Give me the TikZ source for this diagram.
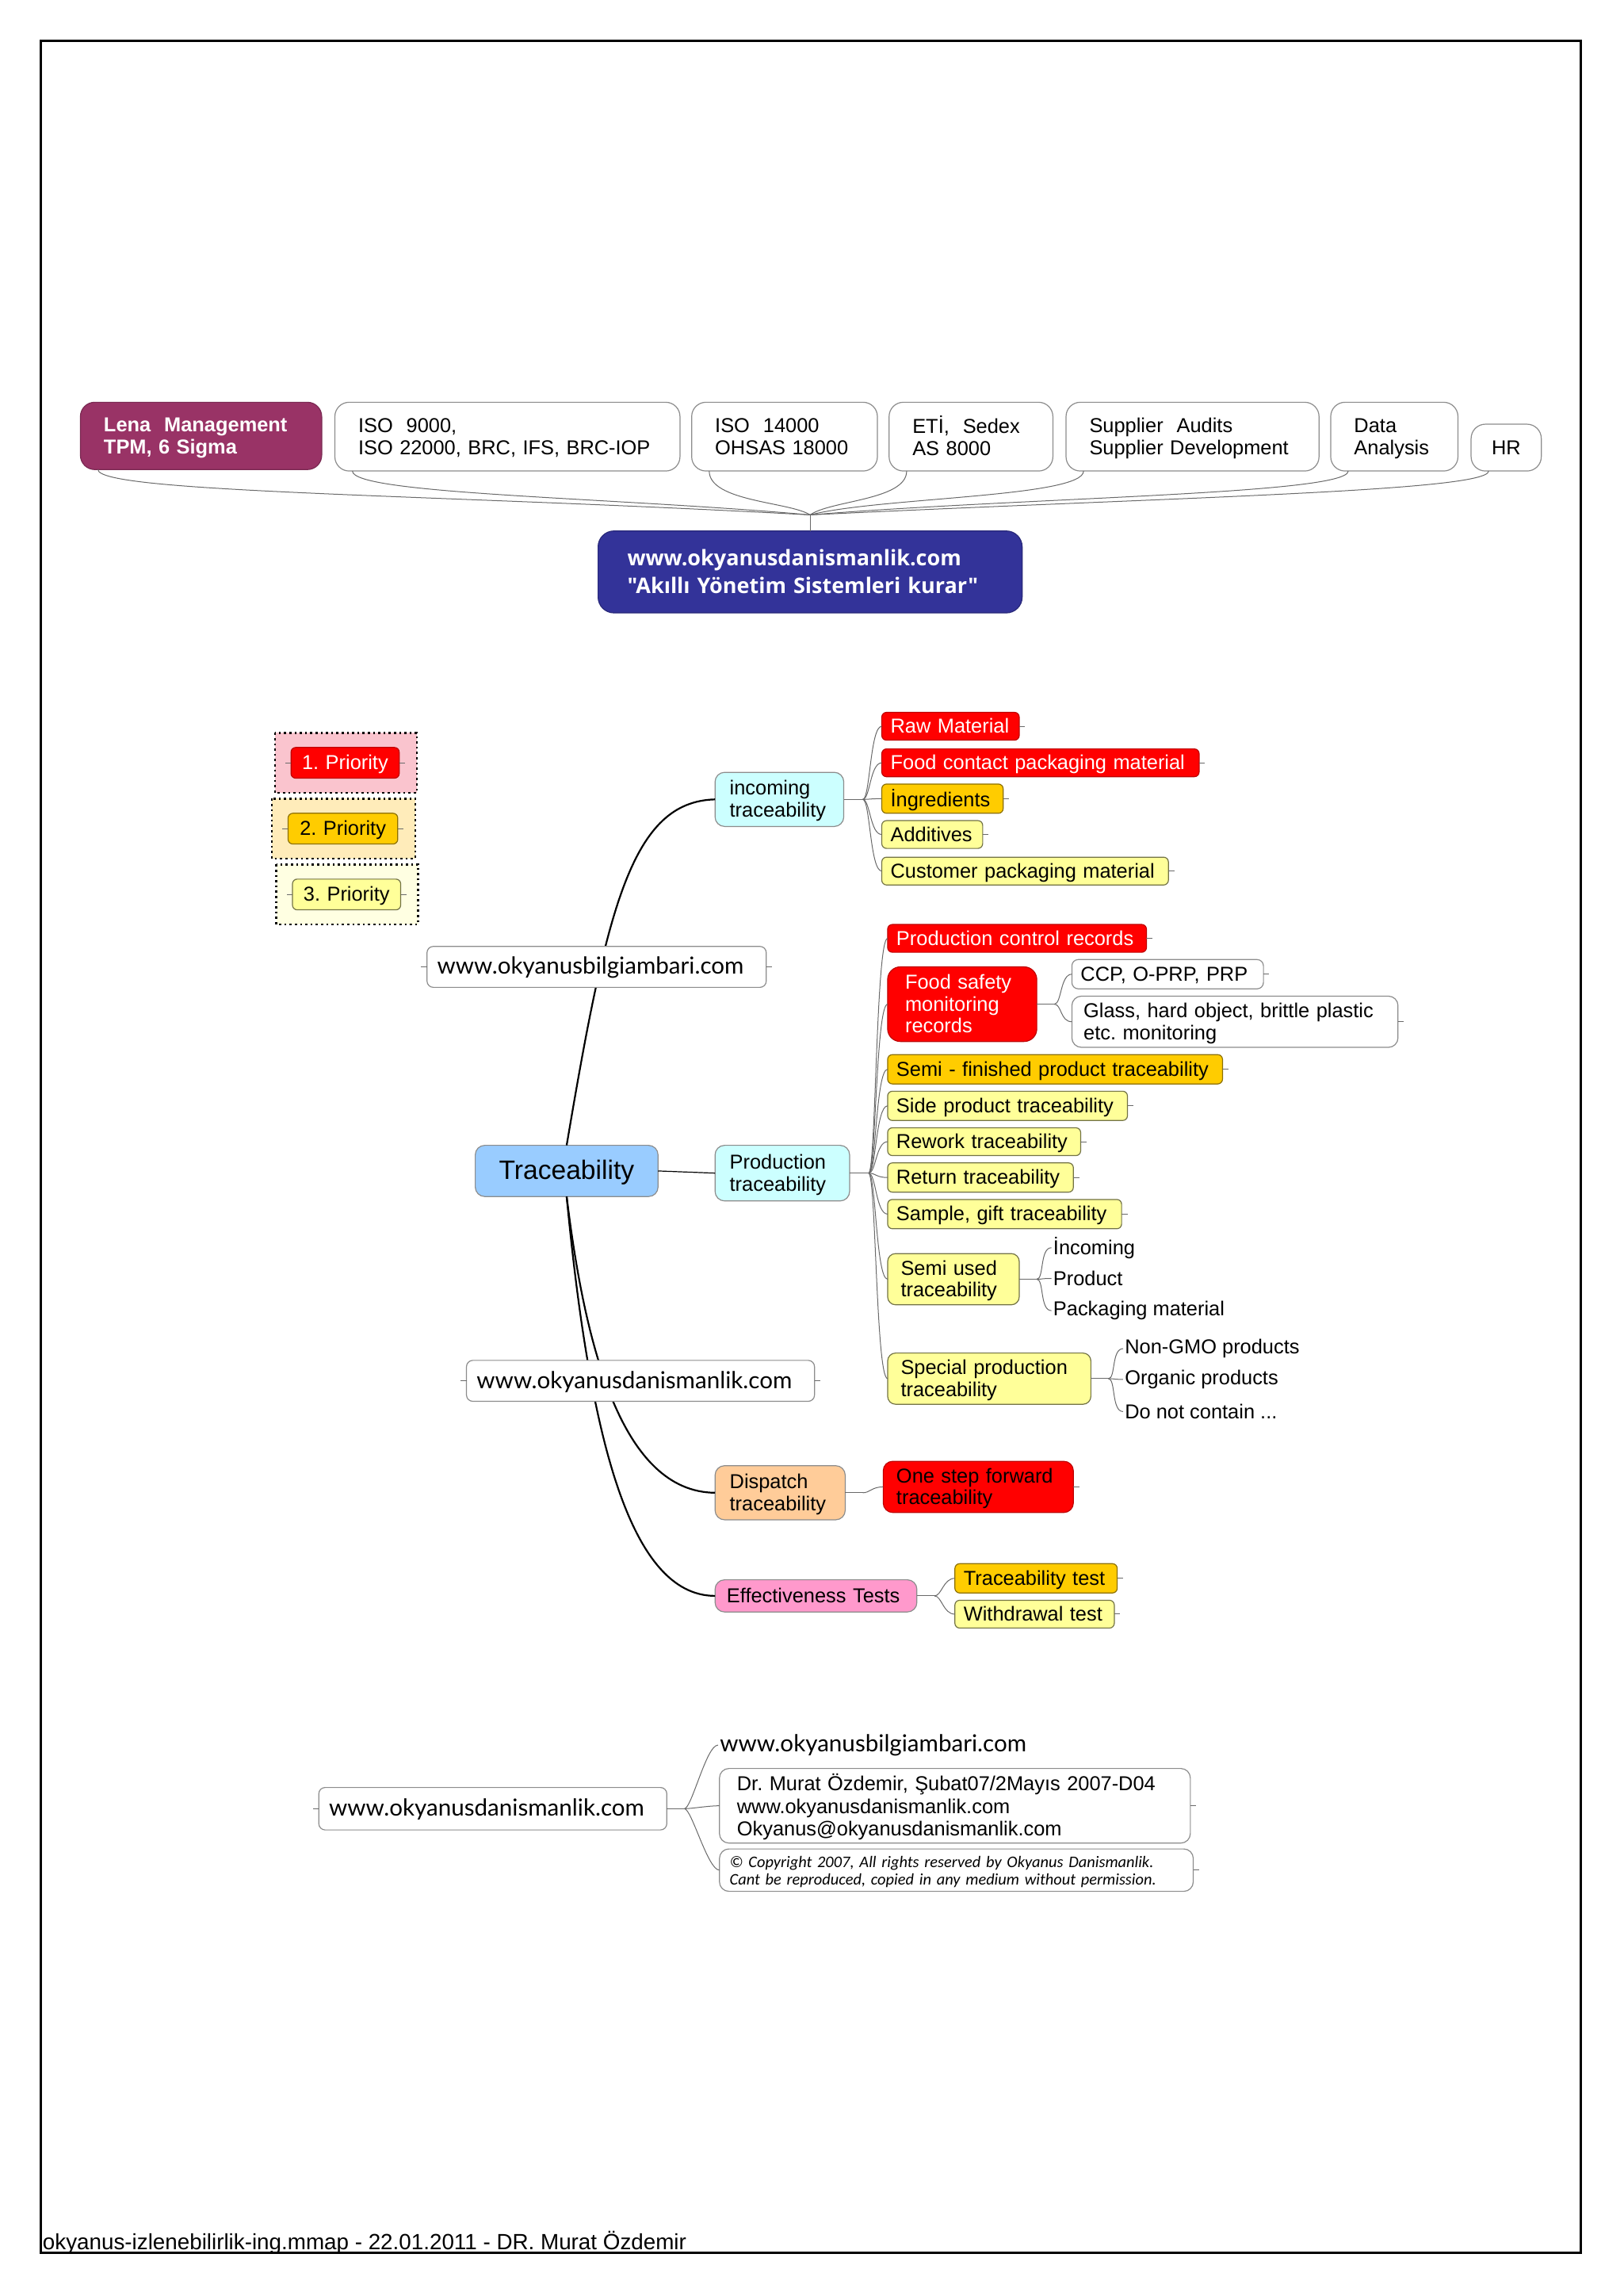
\documentclass[tikz,border=0pt]{standalone}
\usepackage{fontspec}
\setmainfont{Liberation Sans}
\newfontfamily\webfont{Open Sans}
\newfontfamily\handfont{Lato}
\newfontfamily\copyfont{Carlito}
\usetikzlibrary{calc}
\frenchspacing
\definecolor{cMaroon}{RGB}{153,51,102}
\definecolor{cNavy}{RGB}{51,51,153}
\definecolor{cRed}{RGB}{255,0,0}
\definecolor{cGold}{RGB}{255,204,0}
\definecolor{cYel}{RGB}{255,255,153}
\definecolor{cCyan}{RGB}{204,255,255}
\definecolor{cPeach}{RGB}{255,204,153}
\definecolor{cPink}{RGB}{255,153,204}
\definecolor{cBlue}{RGB}{153,204,255}
\definecolor{cBorder}{RGB}{140,140,140}
\definecolor{cLine}{RGB}{105,105,105}
\definecolor{cLegA}{RGB}{250,196,206}
\definecolor{cLegB}{RGB}{255,236,186}
\definecolor{cLegC}{RGB}{255,255,226}
\tikzset{
  frame/.style={draw=black, line width=1.6pt},
  box/.style={draw=cBorder, line width=0.6pt, outer sep=0pt, inner ysep=0pt, align=left, font=\fontsize{12.7}{13.9}\selectfont},
  topbox/.style={box, rounded corners=9pt, fill=white},
  leaf/.style={box, rounded corners=3pt},
  rleaf/.style={leaf, fill=cRed, draw=cRed!75!black, text=white},
  gleaf/.style={leaf, fill=cGold, draw=cGold!55!black},
  yleaf/.style={leaf, fill=cYel, draw=cYel!45!black},
  wleaf/.style={leaf, fill=white, rounded corners=6pt},
  lvl/.style={box, rounded corners=6pt},
  webbox/.style={box, fill=white, rounded corners=4pt, font={\handfont\fontsize{14.8}{16}\selectfont}},
  plaintext/.style={inner xsep=1pt, inner ysep=1pt, anchor=west, font=\fontsize{12.7}{13.9}\selectfont},
  legbox/.style={draw=black, line width=1.3pt, dotted},
  twigline/.style={draw=cLine, line width=0.5pt},
  trunk/.style={draw=black, line width=1.1pt},
}
\newcommand{\bxnode}[8]{%
  \pgfmathsetmacro\bxw{(#5-#3)*0.9225}%
  \pgfmathsetmacro\bxh{(#6-#4)*0.9225}%
  \pgfmathsetmacro\bxp{#7*0.9225}%
  \pgfmathsetmacro\bxt{(#5-#3-2*#7)*0.9225}%
  \node[#1, anchor=north west, inner xsep=\bxp pt, text width=\bxt pt, minimum width=\bxw pt, minimum height=\bxh pt] (#2) at (#3,#4) {\raisebox{0pt}[\dimexpr\height+3pt\relax][\depth]{\begin{tabular}{@{}l@{}}#8\end{tabular}}};}
\newcommand{\twig}[2]{\draw[twigline] (#1) .. controls ($(#1)+(5,0)$) and ($(#2)+(-8,0)$) .. (#2);}
\newcommand{\stubR}[1]{\draw[twigline] (#1.east) -- ++(4,0);}
\newcommand{\stubL}[1]{\draw[twigline] (#1.west) -- ++(-4,0);}
\begin{document}
\begin{tikzpicture}[x=0.9225pt,y=-0.9225pt]
\useasboundingbox (0,0) rectangle (1110.03,1569.65);
\fill[white] (0,0) rectangle (1110.03,1569.65);
\draw[frame] (28,28) rectangle (1081,1540);

% ---------- top row ----------
\bxnode{topbox, fill=cMaroon, draw=cMaroon!80!black, text=white, font={\fontsize{12.7}{13.9}\selectfont\bfseries}}{lena}{55}{275}{220}{321}{16}{Lena~~Management\\TPM, 6 Sigma}
\bxnode{topbox}{iso9}{229}{275}{465}{322}{16}{ISO~~9000,\\ISO 22000, BRC, IFS, BRC-IOP}
\bxnode{topbox}{iso14}{473}{275}{600}{322}{16}{ISO~~14000\\OHSAS 18000}
\bxnode{topbox}{eti}{608}{275}{720}{322}{16}{ETİ,~~Sedex\\AS 8000}
\bxnode{topbox}{supp}{729}{275}{902}{322}{16}{Supplier~~Audits\\Supplier Development}
\bxnode{topbox}{data}{910}{275}{997}{322}{16}{Data\\Analysis}
\bxnode{topbox, align=center}{hr}{1006}{290}{1054}{322}{6}{HR}

\bxnode{box, fill=cNavy, draw=cNavy!80!black, rounded corners=10pt, text=white, font={\webfont\fontsize{13.5}{17.5}\selectfont\bfseries}}{web}{409}{363}{699}{419}{20}{www.okyanusdanismanlik.com\\"Akıllı Yönetim Sistemleri kurar"}

\coordinate (hub) at (554,352);
\draw[twigline] ($(lena.south west)+(12,0)$) .. controls +(0,16) and (300,338) .. (hub);
\draw[twigline] ($(iso9.south west)+(12,0)$) .. controls +(0,16) and (420,340) .. (hub);
\draw[twigline] ($(iso14.south west)+(12,0)$) .. controls +(0,21) and (540,343) .. (hub);
\draw[twigline] ($(eti.south west)+(12,0)$) .. controls +(0,20) and (568,342) .. (hub);
\draw[twigline] ($(supp.south west)+(12,0)$) .. controls +(0,18) and (600,340) .. (hub);
\draw[twigline] ($(data.south west)+(12,0)$) .. controls +(0,16) and (700,340) .. (hub);
\draw[twigline] ($(hr.south west)+(12,0)$) .. controls +(0,14) and (800,340) .. (hub);
\draw[twigline] (hub) -- (web.north);

% ---------- legend ----------
\draw[legbox, fill=cLegA] (188,501) rectangle (285,542);
\draw[legbox, fill=cLegB] (186,546) rectangle (284,587);
\draw[legbox, fill=cLegC] (189,591) rectangle (286,632);
\bxnode{rleaf, align=center}{p1}{199}{511}{273}{532}{4}{1. Priority}
\bxnode{gleaf, align=center}{p2}{197}{556}{272}{577}{4}{2. Priority}
\bxnode{yleaf, align=center}{p3}{200}{601}{274}{622}{4}{3. Priority}
\stubL{p1}\stubR{p1}\stubL{p2}\stubR{p2}\stubL{p3}\stubR{p3}

% ---------- main tree ----------
\bxnode{lvl, fill=cBlue, align=center, font=\fontsize{16.8}{18}\selectfont}{trace}{325}{783}{450}{818}{10}{Traceability}
\bxnode{lvl, fill=cCyan}{inc}{489}{528}{577}{565}{10}{incoming\\traceability}
\bxnode{lvl, fill=cCyan}{prod}{489}{783}{581}{821}{10}{Production\\traceability}
\bxnode{lvl, fill=cPeach}{disp}{489}{1002}{578}{1039}{10}{Dispatch\\traceability}
\bxnode{lvl, fill=cPink}{eff}{489}{1080}{627}{1102}{8}{Effectiveness Tests}

\draw[trunk] (trace.north) .. controls (415,620) and (432,548) .. (inc.west);
\draw[trunk] (trace.south) .. controls (400,920) and (425,1020) .. (disp.west);
\draw[trunk] (trace.south) .. controls (403,980) and (430,1091) .. (eff.west);
\draw[draw=black, line width=0.6pt] (trace.east) -- (prod.west);

% floating web boxes (on top of the trunk curves)
\bxnode{webbox}{wb1}{292}{647}{524}{675}{7}{www.okyanusbilgiambari.com}
\bxnode{webbox}{wd1}{319}{930}{557}{958}{7}{www.okyanusdanismanlik.com}
\stubL{wb1}\stubR{wb1}\stubL{wd1}\stubR{wd1}

% incoming children
\bxnode{rleaf}{raw}{603}{487}{697}{506}{6}{Raw Material}
\bxnode{rleaf}{food}{603}{512}{820}{531}{6}{Food contact packaging material}
\bxnode{gleaf}{ingr}{603}{536}{686}{556}{6}{İngredients}
\bxnode{yleaf}{addi}{603}{561}{672}{580}{6}{Additives}
\bxnode{yleaf}{cust}{603}{586}{799}{605}{6}{Customer packaging material}
\coordinate (fi) at ($(inc.east)+(13,0)$);
\draw[twigline] (inc.east) -- (fi);
\twig{fi}{raw.west}\twig{fi}{food.west}\twig{fi}{ingr.west}\twig{fi}{addi.west}\twig{fi}{cust.west}
\stubR{raw}\stubR{food}\stubR{ingr}\stubR{addi}\stubR{cust}

% production children
\bxnode{rleaf}{pcr}{607}{632}{784}{651}{6}{Production control records}
\bxnode{rleaf, rounded corners=8pt}{fsm}{607}{661}{709}{712}{12}{Food safety\\monitoring\\records}
\bxnode{wleaf, rounded corners=4pt}{ccp}{733}{656}{864}{676}{6}{CCP, O-PRP, PRP}
\bxnode{wleaf}{glass}{733}{681}{956}{716}{8}{Glass, hard object, brittle plastic\\etc. monitoring}
\bxnode{gleaf}{semi}{607}{721}{836}{741}{6}{Semi - finished product traceability}
\bxnode{yleaf}{side}{607}{746}{771}{766}{6}{Side product traceability}
\bxnode{yleaf}{rework}{607}{771}{739}{790}{6}{Rework traceability}
\bxnode{yleaf}{return}{607}{795}{734}{815}{6}{Return traceability}
\bxnode{yleaf}{sample}{607}{820}{767}{840}{6}{Sample, gift traceability}
\bxnode{yleaf, rounded corners=5pt}{semiused}{607}{857}{697}{892}{9}{Semi used\\traceability}
\bxnode{yleaf, rounded corners=5pt}{special}{607}{925}{746}{960}{9}{Special production\\traceability}
\coordinate (fp) at ($(prod.east)+(13,0)$);
\draw[twigline] (prod.east) -- (fp);
\twig{fp}{pcr.west}\twig{fp}{fsm.west}\twig{fp}{semi.west}\twig{fp}{side.west}\twig{fp}{rework.west}
\twig{fp}{return.west}\twig{fp}{sample.west}\twig{fp}{semiused.west}\twig{fp}{special.west}
\stubR{pcr}\stubR{ccp}\stubR{glass}\stubR{semi}\stubR{side}\stubR{rework}\stubR{return}\stubR{sample}

\coordinate (ff) at ($(fsm.east)+(12,0)$);
\draw[twigline] (fsm.east) -- (ff);
\twig{ff}{ccp.west}\twig{ff}{glass.west}

\node[plaintext] (su1) at (719,853) {İncoming};
\node[plaintext] (su2) at (719,874) {Product};
\node[plaintext] (su3) at (719,896) {Packaging material};
\coordinate (fs) at ($(semiused.east)+(12,0)$);
\draw[twigline] (semiused.east) -- (fs);
\twig{fs}{su1.west}\twig{fs}{su2.west}\twig{fs}{su3.west}

\node[plaintext] (sp1) at (768,922) {Non-GMO products};
\node[plaintext] (sp2) at (768,943) {Organic products};
\node[plaintext] (sp3) at (768,965) {Do not contain ...};
\coordinate (fq) at ($(special.east)+(12,0)$);
\draw[twigline] (special.east) -- (fq);
\twig{fq}{sp1.west}\twig{fq}{sp2.west}\twig{fq}{sp3.west}

% dispatch
\bxnode{leaf, fill=cRed, draw=cRed!75!black, rounded corners=6pt}{one}{604}{999}{734}{1034}{9}{One step forward\\traceability}
\coordinate (fd) at ($(disp.east)+(12,0)$);
\draw[twigline] (disp.east) -- (fd);
\twig{fd}{one.west}
\stubR{one}

% effectiveness
\bxnode{gleaf}{ttest}{653}{1069}{764}{1089}{6}{Traceability test}
\bxnode{yleaf}{wtest}{653}{1094}{762}{1113}{6}{Withdrawal test}
\coordinate (fe) at ($(eff.east)+(12,0)$);
\draw[twigline] (eff.east) -- (fe);
\twig{fe}{ttest.west}\twig{fe}{wtest.west}
\stubR{ttest}\stubR{wtest}

% ---------- bottom block ----------
\bxnode{webbox}{wd2}{218}{1222}{456}{1251}{7}{www.okyanusdanismanlik.com}
\stubL{wd2}
\node[plaintext, font={\handfont\fontsize{14.8}{16}\selectfont}] (bb) at (491,1193) {www.okyanusbilgiambari.com};
\bxnode{wleaf, font=\fontsize{12.7}{14.3}\selectfont}{dr}{492}{1209}{814}{1260}{12}{Dr. Murat Özdemir, Şubat07/2Mayıs 2007-D04\\www.okyanusdanismanlik.com\\Okyanus@okyanusdanismanlik.com}
\bxnode{wleaf, font={\copyfont\itshape\fontsize{10.2}{11.2}\selectfont}}{copy}{492}{1264}{816}{1293}{7}{© Copyright 2007, All rights reserved by Okyanus Danismanlik.\\Cant be reproduced, copied in any medium without permission.}
\coordinate (fb) at ($(wd2.east)+(12,0)$);
\draw[twigline] (wd2.east) -- (fb);
\twig{fb}{bb.west}\twig{fb}{dr.west}\twig{fb}{copy.west}
\stubR{dr}\stubR{copy}

% footer
\node[anchor=base west, inner sep=0pt, font=\fontsize{13.9}{16}\selectfont] (foot) at (29,1538) {okyanus-izlenebilirlik-ing.mmap - 22.01.2011 - DR. Murat Özdemir};
\end{tikzpicture}
\end{document}
